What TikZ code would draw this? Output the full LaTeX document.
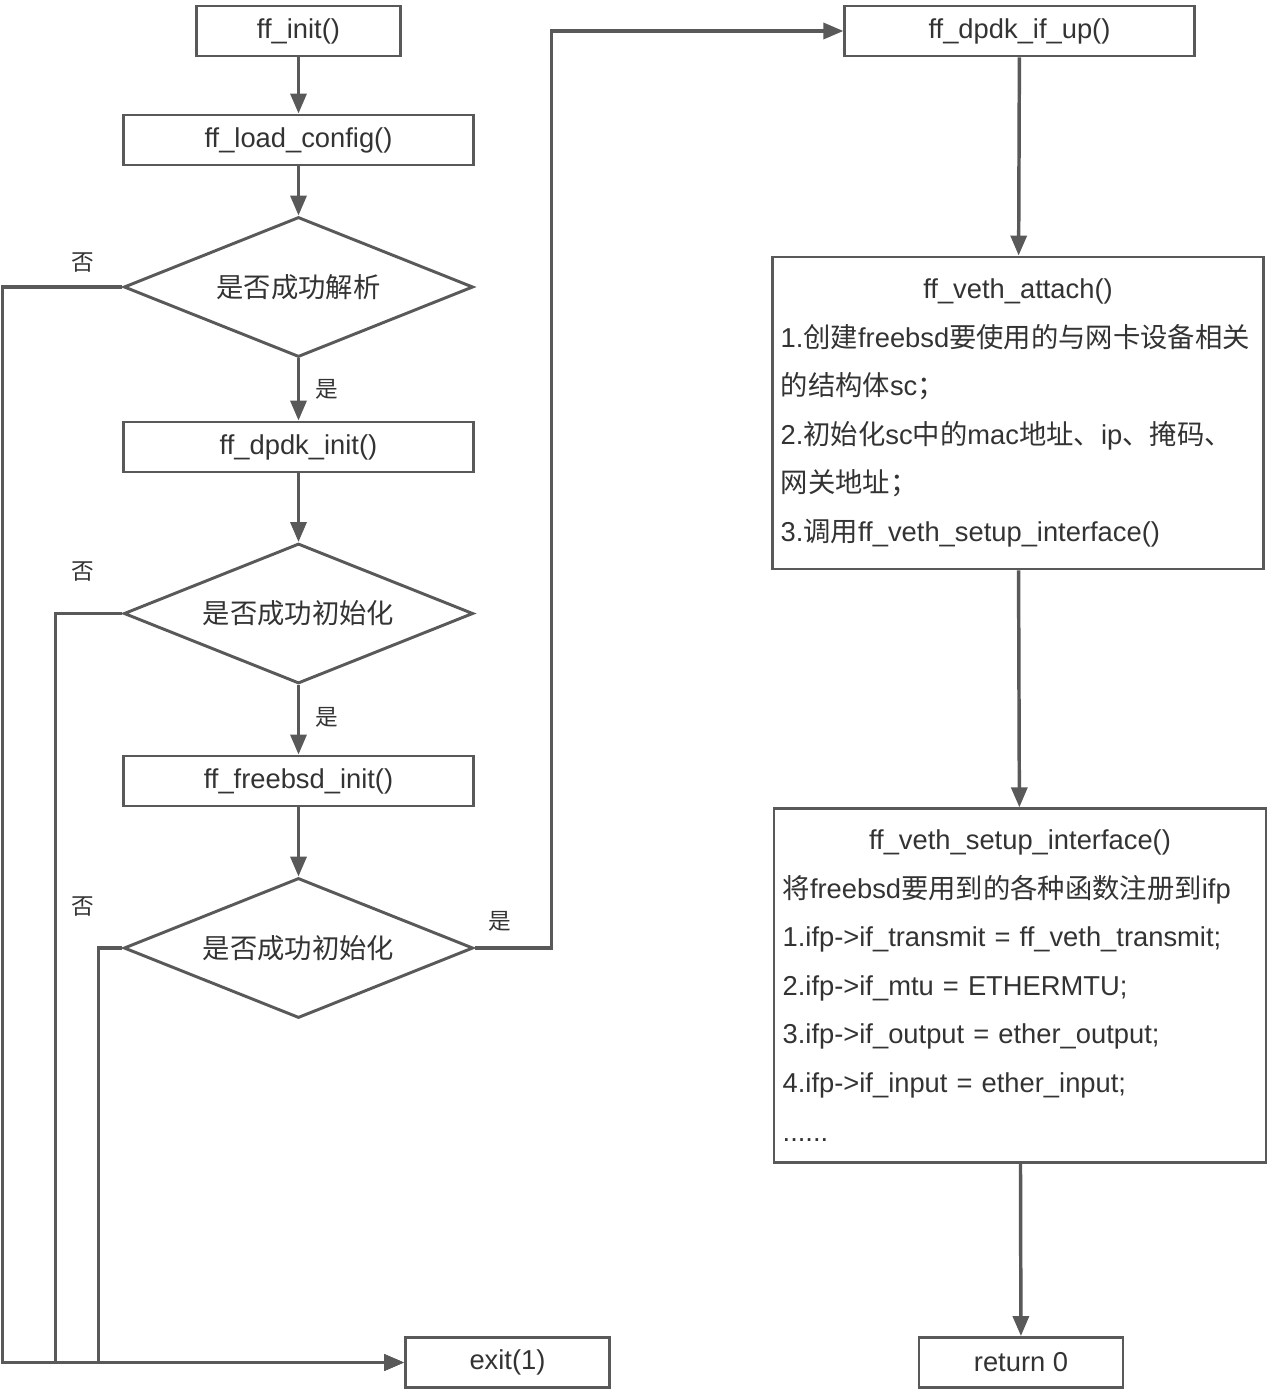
\documentclass[tikz,border=0pt]{standalone}
\usepackage{fontspec}
\setmainfont{Liberation Sans}
\newfontfamily\zhfont{Noto Sans CJK SC}
\newcommand{\zhtext}[1]{{\zhfont #1}}
\usepackage{xcolor}
\definecolor{FlowLine}{HTML}{595959}
\definecolor{FlowInk}{HTML}{333333}
\usepackage{tikz}
\usetikzlibrary{arrows.meta,positioning,shapes.geometric}

\begin{document}
\begin{tikzpicture}[
  x=0.75pt,y=-0.75pt,
  proc/.style={draw=FlowLine,line width=2.2pt,text=FlowInk,font=\fontsize{20.5pt}{24pt}\selectfont,minimum width=262pt,minimum height=37.5pt,inner sep=0pt},
  decide/.style={diamond,aspect=2.5,draw=FlowLine,line width=2.2pt,text=FlowInk,font=\zhfont\fontsize{20.5pt}{24pt}\selectfont,minimum width=262pt,minimum height=105pt,inner sep=0pt},
  panel/.style={draw=FlowLine,line width=2.2pt,text=FlowInk,font=\fontsize{20.5pt}{36.4pt}\selectfont,text width=356pt,minimum width=368pt,align=left,inner xsep=6pt,inner ysep=0pt},
  yesno/.style={text=FlowInk,font=\zhfont\fontsize{17pt}{20pt}\selectfont,inner sep=0pt},
  arr/.style={draw=FlowLine,line width=2.6pt,-{Triangle[length=15pt,width=12pt]}}
]
  \fill[white] (0,0) rectangle (1275,1394);
  \useasboundingbox (0,0) rectangle (1275,1394);

  % left column
  \node[proc,minimum width=153pt] (init) at (298.5,31) {ff\_init()};
  \node[proc] (load) at (298.5,140) {ff\_load\_config()};
  \node[decide] (parse) at (298.5,287) {是否成功解析};
  \node[proc] (dpdk) at (298.5,447) {ff\_dpdk\_init()};
  \node[decide] (dpdkok) at (298.5,613.5) {是否成功初始化};
  \node[proc] (bsd) at (298.5,781) {ff\_freebsd\_init()};
  \node[decide] (bsdok) at (298.5,948) {是否成功初始化};
  \node[proc,minimum width=153pt] (exit) at (507.5,1362.5) {exit(1)};

  % right column
  \node[proc] (ifup) at (1019.5,31) {ff\_dpdk\_if\_up()};
  \node[panel,minimum height=234pt] (attach) at (1018,413) {%
    \makebox[\linewidth]{ff\_veth\_attach()}\\
    1.\zhtext{创建}freebsd\zhtext{要使用的与网卡设备相关}\\
    \zhtext{的结构体}sc\zhtext{；}\\
    2.\zhtext{初始化}sc\zhtext{中的}mac\zhtext{地址、}ip\zhtext{、掩码、}\\
    \zhtext{网关地址；}\\
    3.\zhtext{调用}ff\_veth\_setup\_interface()};
  \node[panel,minimum width=369pt,minimum height=265pt] (setup) at (1020,985.5) {%
    \makebox[\linewidth]{ff\_veth\_setup\_interface()}\\
    \zhtext{将}freebsd\zhtext{要用到的各种函数注册到}ifp\\
    1.ifp->if\_transmit = ff\_veth\_transmit;\\
    2.ifp->if\_mtu = ETHERMTU;\\
    3.ifp->if\_output = ether\_output;\\
    4.ifp->if\_input = ether\_input;\\
    ......};
  \node[proc,minimum width=153pt] (ret) at (1021,1362.5) {return 0};

  % yes / no labels
  \node[yesno] (no1) at (83,263) {否};
  \node[yesno] (no2) at (83,572) {否};
  \node[yesno] (no3) at (83,907) {否};
  \node[yesno] (yes1) at (327,389) {是};
  \node[yesno] (yes2) at (327,717) {是};
  \node[yesno] (yes3) at (500,921) {是};

  \draw[arr] (init) -- (load);
  \draw[arr] (load) -- (parse);
  \draw[arr] (parse) -- (dpdk);
  \draw[arr] (dpdk) -- (dpdkok);
  \draw[arr] (dpdkok) -- (bsd);
  \draw[arr] (bsd) -- (bsdok);
  \draw[arr] (parse.west) -- ++(-120,0) |- (exit);
  \draw[arr] (dpdkok.west) -- ++(-67,0) |- (exit);
  \draw[arr] (bsdok.west) -- ++(-24,0) |- (exit);
  \draw[arr] (bsdok.east) -- ++(77,0) |- (ifup);
  \draw[arr] (ifup) -- (attach);
  \draw[arr] (attach) -- (setup);
  \draw[arr] (setup) -- (ret);
\end{tikzpicture}
\end{document}
